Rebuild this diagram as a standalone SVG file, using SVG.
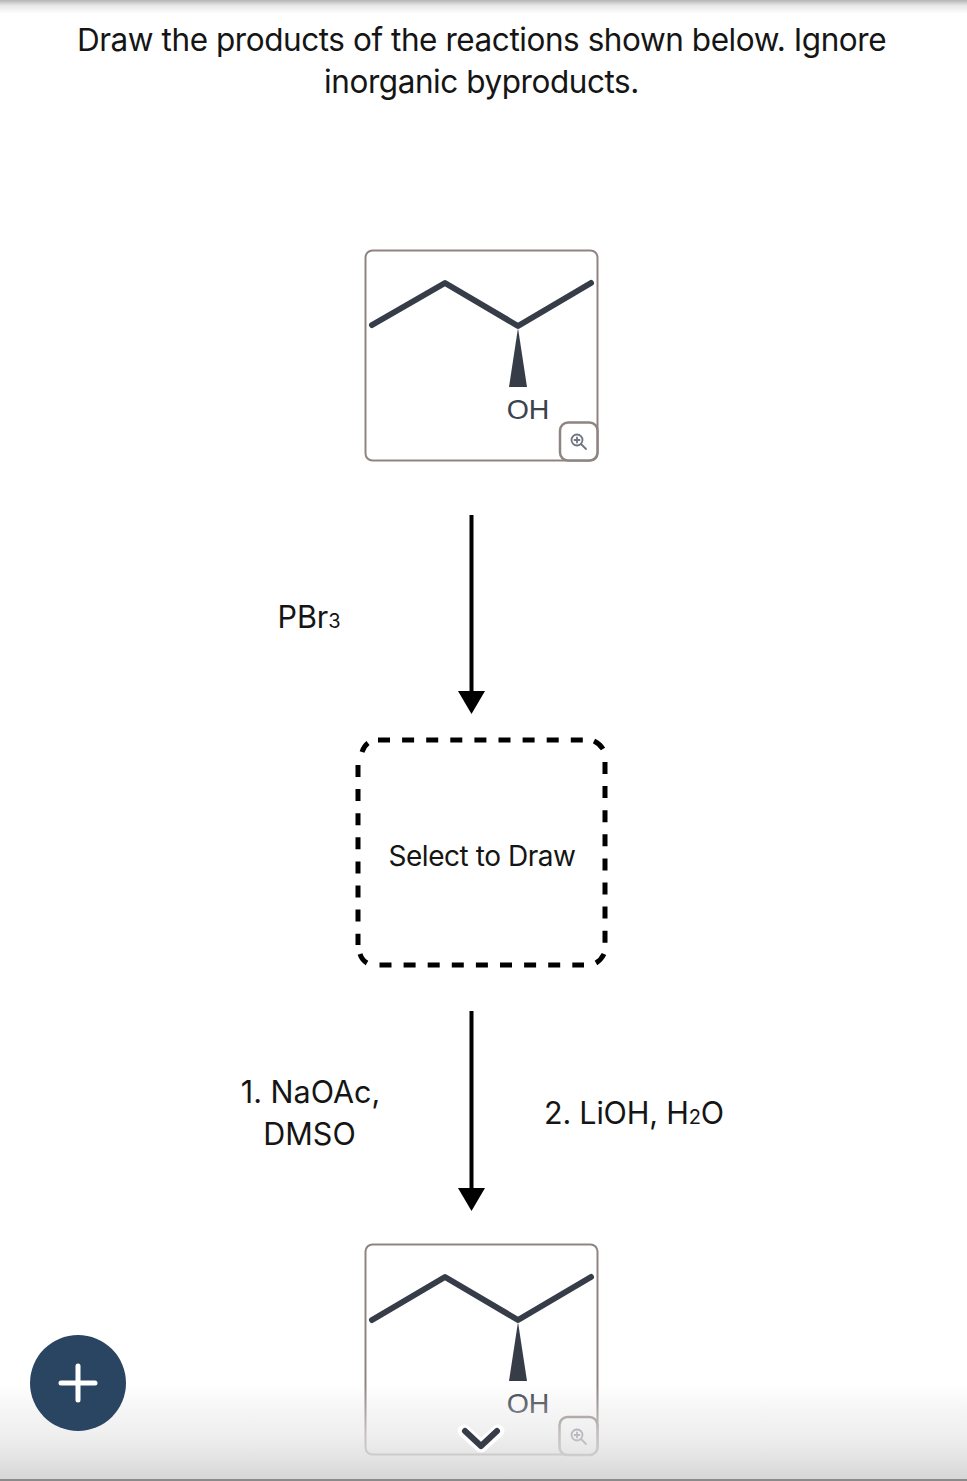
<svg xmlns="http://www.w3.org/2000/svg" width="967" height="1481" viewBox="0 0 967 1481">
<style>
.t{font-family:"Inter","Liberation Sans",sans-serif;fill:#151515}
.title{font-size:31.5px;letter-spacing:-0.44px;text-anchor:middle}
.lab{font-size:30.5px}
.mid{text-anchor:middle}
.sub{font-size:20px}
.frame{fill:#fff;stroke:#8f8482;stroke-width:2}
.btn{fill:#fff;stroke:#8f8482;stroke-width:2.5}
.bond{fill:none;stroke:#373d48;stroke-width:6;stroke-linecap:round;stroke-linejoin:round}
.wedge{fill:#373d48}
.oh{font-family:"Liberation Sans",sans-serif;font-size:28.500px;fill:#3d434e;text-anchor:middle}
.mag{fill:none;stroke:#6e7480;stroke-width:1.800;stroke-linecap:round}
.dash{fill:none;stroke:#000;stroke-width:5;stroke-dasharray:12 12.1}
.corner{fill:none;stroke:#000;stroke-width:5}
.shaft{stroke:#000;stroke-width:4;fill:none}
</style>
<defs>
<linearGradient id="top" x1="0" y1="0" x2="0" y2="1"><stop offset="0" stop-color="#b4b4b4"/><stop offset="0.4" stop-color="#e8e8e8"/><stop offset="1" stop-color="#fff"/></linearGradient>
<linearGradient id="bot" x1="0" y1="0" x2="0" y2="1"><stop offset="0" stop-color="#dcdcdc" stop-opacity="0"/><stop offset="0.5" stop-color="#e6e6e6" stop-opacity="0.6"/><stop offset="1" stop-color="#d6d6d6" stop-opacity="1"/></linearGradient>
</defs>
<rect width="967" height="1481" fill="#fff"/>
<rect width="967" height="14" fill="url(#top)"/>
<g id="title">
<text class="t title" x="481.500" y="51">Draw the products of the reactions shown below. Ignore</text>
<text class="t title" x="481.500" y="93">inorganic byproducts.</text>
</g>
<g id="start-molecule">
<rect class="frame" x="365.500" y="250.500" width="232" height="210" rx="7"/>
<path class="bond" d="M372 325L445 283L518 326L591 283"/>
<path class="wedge" d="M518 328L527 387H509z"/>
<text class="oh" x="528" y="419">OH</text>
<rect class="btn" x="560" y="422.500" width="37.500" height="38" rx="8"/>
<circle class="mag" cx="577" cy="440" r="5.500"/><path class="mag" d="M581 444L586 449M574.500 440H579.500M577 437.500V442.500"/>
</g>
<g id="connectors">
<path class="shaft" d="M471.500 515V692"/><path d="M458 691H485L471.500 714z"/>
<path class="shaft" d="M471.500 1011V1189"/><path d="M458 1188H485L471.500 1211z"/>
</g>
<g id="reagent-1"><text class="t lab" x="277.500" y="628" letter-spacing="-0.1">PBr<tspan class="sub">3</tspan></text></g>
<g id="draw-box">
<path class="dash" d="M378 740H590"/>
<path class="dash" d="M379.500 965H584"/>
<path class="dash" d="M358 765V945"/>
<path class="dash" d="M605 762V945"/>
<path class="corner" d="M362 752Q364 746 368 743"/>
<path class="corner" d="M594 741Q600 744 603 749"/>
<path class="corner" d="M360 954Q362 960 367 963"/>
<path class="corner" d="M596 963Q601 960 604 954"/>
<text class="t mid" x="482" y="866" font-size="28" letter-spacing="-0.45">Select to Draw</text>
</g>
<g id="reagent-2">
<text class="t lab mid" x="310.500" y="1103">1. NaOAc,</text>
<text class="t lab mid" x="309.500" y="1145" font-size="31">DMSO</text>
</g>
<g id="reagent-3"><text class="t lab" x="544" y="1124" letter-spacing="-0.2">2. LiOH, H<tspan class="sub">2</tspan>O</text></g>
<g id="end-molecule">
<rect class="frame" x="365.500" y="1244.500" width="232" height="210" rx="7"/>
<path class="bond" d="M372 1320L445 1277L518 1320L591 1277"/>
<path class="wedge" d="M518 1322L527 1381H509z"/>
<text class="oh" x="528" y="1413">OH</text>
<rect class="btn" x="559.500" y="1417" width="38" height="38" rx="8"/>
<circle class="mag" cx="577" cy="1435" r="5.500"/><path class="mag" d="M581 1439L586 1444M574.500 1435H579.500M577 1432.500V1437.500"/>
</g>
<rect y="1385" width="967" height="94" fill="url(#bot)"/>
<rect y="1479" width="967" height="2" fill="#8a8a8a"/>
<g id="scroll-chevron">
<path d="M464 1431L481 1446L498 1431" fill="none" stroke="#fff" stroke-width="13" stroke-linecap="round" stroke-linejoin="round"/>
<path d="M465 1431L481 1446L497 1431" fill="none" stroke="#373d48" stroke-width="6" stroke-linecap="round" stroke-linejoin="round"/>
</g>
<g id="add-button">
<circle cx="78" cy="1383" r="48" fill="#2a4562"/>
<path d="M61 1383H95M78 1366V1400" stroke="#fff" stroke-width="5" stroke-linecap="round"/>
</g>
</svg>
